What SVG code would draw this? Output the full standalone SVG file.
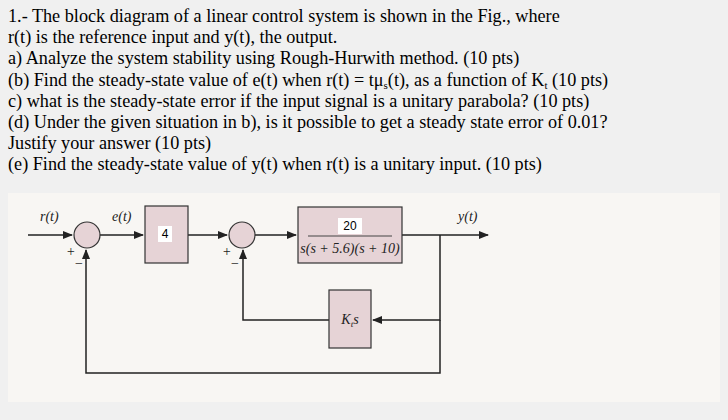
<svg xmlns="http://www.w3.org/2000/svg" width="728" height="420" viewBox="0 0 728 420">
<style>
.q{font-family:"Liberation Serif",serif;font-size:18.2px;fill:#000}
.l{font-family:"Liberation Serif",serif;font-size:14px;font-style:italic;fill:#222}
.b{fill:#e6d3d6;stroke:#333;stroke-width:1.2}
.w{stroke:#222;stroke-width:1.5;fill:none}
.s{font-family:"Liberation Sans",sans-serif;font-size:12px;fill:#000}
</style>
<defs><marker id="a" markerWidth="10" markerHeight="8" refX="9" refY="4" orient="auto" markerUnits="userSpaceOnUse"><path d="M0,0L10,4L0,8z" fill="#222"/></marker></defs>
<rect width="728" height="420" fill="#f0f0f0"/>
<g class="q">
<text x="8" y="22">1.- The block diagram of a linear control system is shown in the Fig., where</text>
<text x="8" y="43">r(t) is the reference input and y(t), the output.</text>
<text x="8" y="64">a) Analyze the system stability using Rough-Hurwith method. (10 pts)</text>
<text x="8" y="86">(b) Find the steady-state value of e(t) when r(t) = tμ<tspan font-size="11" dy="3">s</tspan><tspan dy="-3">(t), as a function of K</tspan><tspan font-size="11" dy="3">t</tspan><tspan dy="-3"> (10 pts)</tspan></text>
<text x="8" y="107">c) what is the steady-state error if the input signal is a unitary parabola? (10 pts)</text>
<text x="8" y="128">(d) Under the given situation in b), is it possible to get a steady state error of 0.01?</text>
<text x="8" y="149">Justify your answer (10 pts)</text>
<text x="8" y="170">(e) Find the steady-state value of y(t) when r(t) is a unitary input. (10 pts)</text>
</g>
<rect x="8" y="193" width="712" height="209" fill="#f8f6f3"/>
<g id="connectors">
<path class="w" d="M28,235H72" marker-end="url(#a)"/>
<path class="w" d="M100,235H143" marker-end="url(#a)"/>
<path class="w" d="M188,235H227" marker-end="url(#a)"/>
<path class="w" d="M255,235H296" marker-end="url(#a)"/>
<path class="w" d="M402,235H488" marker-end="url(#a)"/>
<path class="w" d="M440,235V320H373" marker-end="url(#a)"/>
<path class="w" d="M329,320H243V250" marker-end="url(#a)"/>
<path class="w" d="M440,320V373H86V250" marker-end="url(#a)"/>
</g>
<g id="sum1"><circle class="b" cx="87" cy="235" r="13"/><text class="l" x="66" y="256" font-style="normal">+</text><text class="l" x="74" y="268" font-style="normal">−</text></g>
<g id="block4"><rect class="b" x="145" y="206" width="43" height="57"/><rect x="158" y="226" width="14" height="16" fill="#fff"/><text class="s" x="165" y="238" text-anchor="middle">4</text></g>
<g id="sum2"><circle class="b" cx="242" cy="235" r="13"/><text class="l" x="222" y="256" font-style="normal">+</text><text class="l" x="230" y="268" font-style="normal">−</text></g>
<g id="plant"><rect class="b" x="298" y="207" width="104" height="56"/><rect x="338" y="218" width="24" height="16" fill="#fff"/><text class="s" x="350" y="230" text-anchor="middle">20</text><line x1="308" y1="236" x2="392" y2="236" stroke="#444" stroke-width="1"/><text class="l" x="350" y="253" text-anchor="middle" font-size="12.5">s(s + 5.6)(s + 10)</text></g>
<g id="ks"><rect class="b" x="329" y="290" width="42" height="58"/><text class="l" x="350" y="324" text-anchor="middle">K<tspan font-size="9" dy="3">t</tspan><tspan dy="-3">s</tspan></text></g>
<g class="l"><text x="40" y="221">r(t)</text><text x="112" y="221">e(t)</text><text x="458" y="221">y(t)</text></g>
</svg>
